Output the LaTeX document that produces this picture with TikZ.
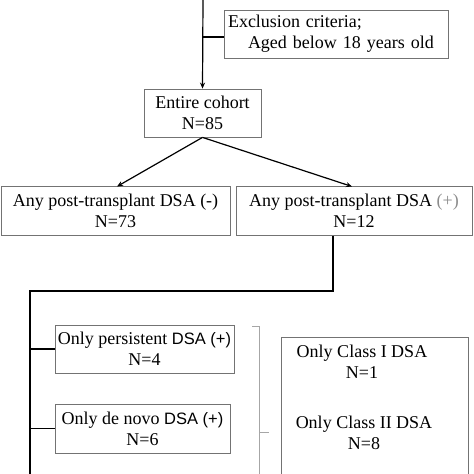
\documentclass[tikz,border=0pt]{standalone}
\usepackage{fontspec}
\setmainfont{Liberation Serif}
\newfontfamily\sansdsa{Liberation Sans}
\usetikzlibrary{arrows.meta}
\begin{document}
\begin{tikzpicture}[x=1pt,y=-1pt,
  box/.style={draw=black!55,line width=0.8pt,inner sep=0pt,align=center,font=\fontsize{18}{21}\selectfont},
  txt/.style={inner sep=0pt,align=center,font=\fontsize{18}{21}\selectfont},
  conn/.style={line width=1.2pt,black},
  arr/.style={conn,-{Stealth[length=6pt,width=5pt]}},
  brk/.style={line width=0.6pt,black!35}]
\useasboundingbox (0,0) rectangle (474,474);
% boxes
\node[box,minimum width=224pt,minimum height=48pt,align=left,text width=216pt] (excl) at (336,34)
  {Exclusion criteria;\\\hspace*{20pt}Aged below 18 years old};
\node[box,minimum width=117pt,minimum height=48pt] (cohort) at (202.5,113) {Entire cohort\\N=85};
\node[box,minimum width=229pt,minimum height=49pt] (neg) at (115.5,211) {Any post-transplant DSA (-)\\N=73};
\node[box,minimum width=236pt,minimum height=49pt] (pos) at (354,211) {Any post-transplant DSA \textcolor{black!45}{(+)}\\N=12};
\node[box,minimum width=179pt,minimum height=48pt] (pers) at (144.5,349) {Only persistent {\sansdsa\fontsize{16.5}{21}\selectfont DSA (+)}\\N=4};
\node[box,minimum width=175pt,minimum height=49pt] (denovo) at (142.5,428.5) {Only de novo {\sansdsa\fontsize{16.5}{21}\selectfont DSA (+)}\\N=6};
\node[minimum width=187pt,minimum height=140pt,inner sep=0pt,anchor=north west] (class) at (281,337) {};
\draw[draw=black!55,line width=0.8pt] (class.south west) -- (class.north west) -- (class.north east) -- (class.south east);
\node[txt] (c1) at (362,362) {Only Class I DSA\\N=1};
\node[txt] (c2) at (364,433) {Only Class II DSA\\N=8};
% connectors
\coordinate (top) at (203,0);
\coordinate (bj) at (203,37);
\draw[arr] (top) -- (cohort.north);
\draw[conn] (bj) -- (excl.west |- bj);
\coordinate (nl) at (117,186.5);
\coordinate (pl) at (352,186.5);
\draw[arr] (cohort.south) -- (nl);
\draw[arr] (cohort.south) -- (pl);
\coordinate (ps) at (333,235.5);
\coordinate (t1) at (333,291);
\coordinate (t2) at (30,291);
\coordinate (t3) at (30,474);
\draw[conn] (ps) -- (t1) -- (t2) -- (t3);
\draw[conn] (t2 |- pers.west) -- (pers.west);
\draw[conn] (t2 |- denovo.west) -- (denovo.west);
% bracket
\coordinate (b1) at (252,326);
\coordinate (b2) at (259,326);
\coordinate (b3) at (259,474);
\coordinate (b4) at (259,432);
\coordinate (b5) at (269,432);
\draw[brk] (b1) -- (b2) -- (b3);
\draw[brk] (b4) -- (b5);
\end{tikzpicture}
\end{document}
